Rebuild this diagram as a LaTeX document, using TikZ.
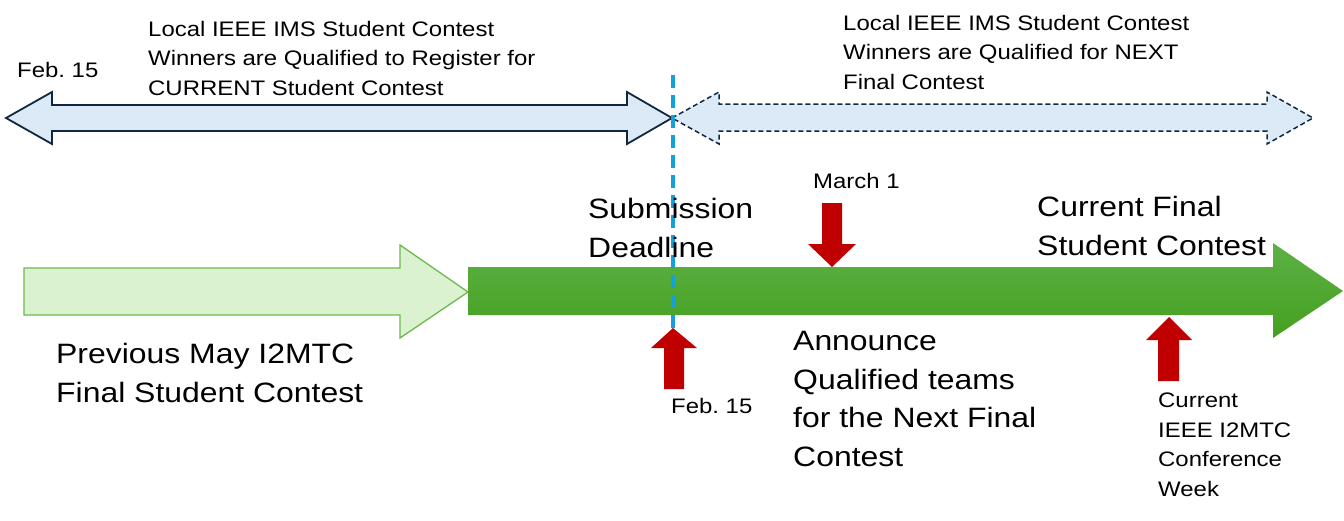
\documentclass[tikz,border=0pt]{standalone}
\usepackage{fontspec}
\setmainfont[FakeStretch=1.14]{Liberation Sans}
\frenchspacing
\definecolor{topfill}{HTML}{DCE9F7}
\definecolor{topline}{HTML}{10283F}
\definecolor{lgfill}{HTML}{DAF2D0}
\definecolor{lgline}{HTML}{6DB851}
\definecolor{dgtop}{HTML}{5CB145}
\definecolor{dgbot}{HTML}{45A01F}
\definecolor{arrowred}{HTML}{C00000}
\definecolor{dashblue}{HTML}{16A0DA}
\begin{document}
\frenchspacing
\begin{tikzpicture}[x=1pt,y=-1pt,
  small/.style={font=\fontsize{21}{29.5}\selectfont, inner sep=0pt, anchor=base west, align=left},
  big/.style={font=\fontsize{28}{38.5}\selectfont, inner sep=0pt, anchor=base west, align=left},
  redarrow/.style={fill=arrowred, draw=none},
  toparrow/.style={fill=topfill, draw=topline, line width=1.8pt, line join=miter},
  dashedarrow/.style={fill=topfill, draw=topline, line width=1.5pt, dash pattern=on 5pt off 3pt}]
\useasboundingbox (0,0) rectangle (1344,520);
% top double arrows
\draw[dashedarrow] (672,118) -- (719,92) -- (719,104) -- (1267,104) -- (1267,92) -- (1313,118) -- (1267,144) -- (1267,131) -- (719,131) -- (719,144) -- cycle;
\draw[toparrow] (6,118) -- (52,92) -- (52,105) -- (627,105) -- (627,92) -- (672,118) -- (627,144) -- (627,131) -- (52,131) -- (52,144) -- cycle;
% green arrows
\draw[fill=lgfill, draw=lgline, line width=1.3pt] (24,268) -- (400,268) -- (400,245) -- (468,292) -- (400,338) -- (400,315) -- (24,315) -- cycle;
\shade[top color=dgtop, bottom color=dgbot] (468,267) -- (1273,267) -- (1273,243) -- (1343,291) -- (1273,338) -- (1273,315) -- (468,315) -- cycle;
% red arrows
\coordinate (febtip) at (673,328);
\fill[redarrow] (febtip) -- (697,348) -- (684,348) -- (684,389) -- (664,389) -- (664,348) -- (651,348) -- cycle;
\coordinate (martip) at (832,267);
\fill[redarrow] (martip) -- (856,244) -- (842,244) -- (842,203) -- (822,203) -- (822,244) -- (808,244) -- cycle;
\coordinate (weektip) at (1169,317);
\fill[redarrow] (weektip) -- (1192,340) -- (1179,340) -- (1179,381) -- (1158,381) -- (1158,340) -- (1146,340) -- cycle;
% dashed blue line
\coordinate (dtop) at (673,75);
\draw[dashblue, line width=3.4pt, dash pattern=on 13pt off 7pt] (dtop) -- (febtip);
% texts
\node[small] (lt) at (148,95) {Local IEEE IMS Student Contest\\Winners are Qualified to Register for\\CURRENT Student Contest};
\node[small] (fl) at (17,77) {Feb. 15};
\node[small] (rt) at (843,89) {Local IEEE IMS Student Contest\\Winners are Qualified for NEXT\\Final Contest};
\node[big] (sd) at (588,257) {Submission\\Deadline};
\node[small] (m1) at (813,188) {March 1};
\node[big, fill=white, inner xsep=2pt, inner ysep=5pt] (cf) at (1035,255) {Current Final\\Student Contest};
\node[big] (pm) at (56,402) {Previous May I2MTC\\Final Student Contest};
\node[big] (an) at (793,466) {Announce\\Qualified teams\\for the Next Final\\Contest};
\node[small] (f2) at (671,413) {Feb. 15};
\node[small] (cw) at (1158,496) {Current\\IEEE I2MTC\\Conference\\Week};
\end{tikzpicture}
\end{document}
